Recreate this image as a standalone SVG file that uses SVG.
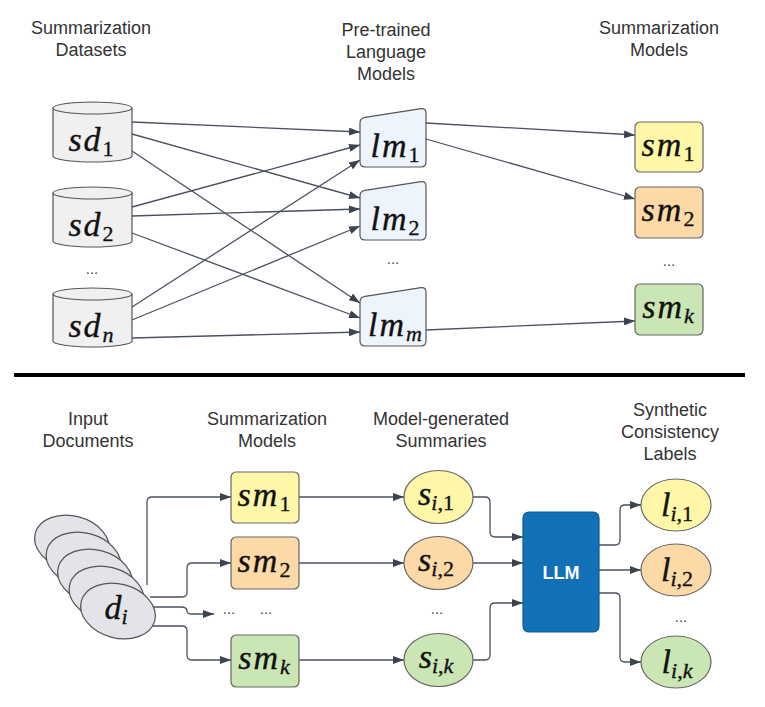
<svg xmlns="http://www.w3.org/2000/svg" width="765" height="707" viewBox="0 0 765 707">
<defs>
<marker id="ah" markerUnits="userSpaceOnUse" markerWidth="11" markerHeight="8" refX="11" refY="4" orient="auto">
<path d="M0,0 L11,4 L0,8 Z" fill="#3b4250"/>
</marker>
<style>
.lbl{font-family:"Liberation Sans",Arial,sans-serif;font-size:18px;fill:#333;text-anchor:middle}
.dots{font-family:"Liberation Sans",Arial,sans-serif;font-size:15px;fill:#444;text-anchor:middle}
.m{font-family:"Liberation Serif","Times New Roman",serif;font-style:italic;font-size:34px;fill:#111;stroke:#111;stroke-width:0.35px;text-anchor:middle}
.m .b{letter-spacing:2px}
.m .s{font-size:22px}
.m .r{font-style:normal}
.cyl{fill:#f0f0f0;stroke:#555;stroke-width:1.2}
.lm{fill:#edf4fc;stroke:#555;stroke-width:1.2}
.yel{fill:#fff7a8;stroke:#666;stroke-width:1.2}
.org{fill:#fcd9a6;stroke:#666;stroke-width:1.2}
.grn{fill:#c9e6b4;stroke:#666;stroke-width:1.2}
.doc{fill:#e2e4e9;stroke:#555;stroke-width:1.2}
.c{fill:none;stroke:#4a5160;stroke-width:1.3;marker-end:url(#ah)}
</style>
</defs>
<rect width="765" height="707" fill="#fff"/>

<g id="labels">
<text class="lbl" x="91" y="34">Summarization</text>
<text class="lbl" x="91" y="56">Datasets</text>
<text class="lbl" x="386" y="36">Pre-trained</text>
<text class="lbl" x="386" y="58">Language</text>
<text class="lbl" x="386" y="80">Models</text>
<text class="lbl" x="659" y="34">Summarization</text>
<text class="lbl" x="659" y="56">Models</text>
<text class="lbl" x="88" y="425">Input</text>
<text class="lbl" x="88" y="447">Documents</text>
<text class="lbl" x="267" y="425">Summarization</text>
<text class="lbl" x="267" y="447">Models</text>
<text class="lbl" x="441" y="425">Model-generated</text>
<text class="lbl" x="441" y="447">Summaries</text>
<text class="lbl" x="670" y="416">Synthetic</text>
<text class="lbl" x="670" y="438">Consistency</text>
<text class="lbl" x="670" y="460">Labels</text>
<text class="dots" x="92" y="274">...</text>
<text class="dots" x="393" y="264">...</text>
<text class="dots" x="669" y="266">...</text>
<text class="dots" x="229" y="614">...</text>
<text class="dots" x="266" y="614">...</text>
<text class="dots" x="437" y="614">...</text>
<text class="dots" x="681" y="622">...</text>
</g>

<line id="separator" x1="14" y1="375" x2="745" y2="375" stroke="#000" stroke-width="4"/>

<g id="connectors">
<path class="c" d="M132,122 L360,132"/>
<path class="c" d="M132,134 L360,198"/>
<path class="c" d="M132,151 L360,303"/>
<path class="c" d="M132,207 L360,145"/>
<path class="c" d="M132,216 L360,209"/>
<path class="c" d="M132,233 L360,318"/>
<path class="c" d="M132,307 L360,160"/>
<path class="c" d="M132,320 L360,226"/>
<path class="c" d="M132,338 L360,332"/>
<path class="c" d="M426,123 L635,135"/>
<path class="c" d="M426,139 L635,199"/>
<path class="c" d="M426,330 L635,321"/>

<path class="c" d="M147,585 L147,502 Q147,497 152,497 L231,497"/>
<path class="c" d="M150,597 L182,597 Q187,597 187,592 L187,568 Q187,563 192,563 L231,563"/>
<path class="c" d="M150,607 L181,607 Q187,607 187,611 Q187,614 192,614 L214,614"/>
<path class="c" d="M140,626 L182,626 Q187,626 187,631 L187,655 Q187,660 192,660 L231,660"/>

<path class="c" d="M299,497 L404,497"/>
<path class="c" d="M299,563 L404,563"/>
<path class="c" d="M299,660 L404,660"/>

<path class="c" d="M473,497 L485,497 Q490,497 490,502 L490,532 Q490,537 495,537 L523,537"/>
<path class="c" d="M473,563 L523,563"/>
<path class="c" d="M473,660 L485,660 Q490,660 490,655 L490,608 Q490,603 495,603 L523,603"/>

<path class="c" d="M599,545 L615,545 Q620,545 620,540 L620,510 Q620,505 625,505 L641,505"/>
<path class="c" d="M599,570 L641,570"/>
<path class="c" d="M599,593 L615,593 Q620,593 620,598 L620,657 Q620,662 625,662 L641,662"/>
</g>

<g id="sd1">
<path class="cyl" d="M53,108 A39.5,6 0 0,1 132,108 L132,156 A39.5,6 0 0,1 53,156 Z"/>
<path class="cyl" d="M53,108 A39.5,6 0 0,0 132,108" fill="none"/>
<text class="m" x="91" y="151"><tspan class="b">sd</tspan><tspan class="s r" dy="5">1</tspan></text>
</g>
<g id="sd2">
<path class="cyl" d="M53,193 A39.5,6 0 0,1 132,193 L132,241 A39.5,6 0 0,1 53,241 Z"/>
<path class="cyl" d="M53,193 A39.5,6 0 0,0 132,193" fill="none"/>
<text class="m" x="91" y="236"><tspan class="b">sd</tspan><tspan class="s r" dy="5">2</tspan></text>
</g>
<g id="sdn">
<path class="cyl" d="M53,294 A39.5,6 0 0,1 132,294 L132,341 A39.5,6 0 0,1 53,341 Z"/>
<path class="cyl" d="M53,294 A39.5,6 0 0,0 132,294" fill="none"/>
<text class="m" x="91" y="337"><tspan class="b">sd</tspan><tspan class="s" dy="5">n</tspan></text>
</g>

<g id="lm1">
<path class="lm" d="M360,123 Q360,118 365,117.3 L421,108.7 Q426,108 426,113 L426,162 Q426,167 421,167 L365,167 Q360,167 360,162 Z"/>
<text class="m" x="395" y="157"><tspan class="b">lm</tspan><tspan class="s r" dy="5">1</tspan></text>
</g>
<g id="lm2">
<path class="lm" d="M360,196 Q360,191 365,190.3 L421,181.7 Q426,181 426,186 L426,235 Q426,240 421,240 L365,240 Q360,240 360,235 Z"/>
<text class="m" x="395" y="230"><tspan class="b">lm</tspan><tspan class="s r" dy="5">2</tspan></text>
</g>
<g id="lmm">
<path class="lm" d="M360,302 Q360,297 365,296.3 L421,287.7 Q426,287 426,292 L426,341 Q426,346 421,346 L365,346 Q360,346 360,341 Z"/>
<text class="m" x="395" y="336"><tspan class="b">lm</tspan><tspan class="s" dy="5">m</tspan></text>
</g>

<g id="top_sm1">
<rect class="yel" x="635" y="122" width="68" height="50" rx="5"/>
<text class="m" x="668" y="156"><tspan class="b">sm</tspan><tspan class="s r" dy="5">1</tspan></text>
</g>
<g id="top_sm2">
<rect class="org" x="635" y="187" width="68" height="51" rx="5"/>
<text class="m" x="668" y="221"><tspan class="b">sm</tspan><tspan class="s r" dy="5">2</tspan></text>
</g>
<g id="top_smk">
<rect class="grn" x="635" y="284" width="68" height="51" rx="5"/>
<text class="m" x="668" y="318"><tspan class="b">sm</tspan><tspan class="s" dy="5">k</tspan></text>
</g>

<g id="docs">
<ellipse class="doc" cx="72" cy="543" rx="38" ry="27" transform="rotate(15 72 543)"/>
<ellipse class="doc" cx="83.5" cy="560" rx="38" ry="27" transform="rotate(15 83.5 560)"/>
<ellipse class="doc" cx="95" cy="577" rx="38" ry="27" transform="rotate(15 95 577)"/>
<ellipse class="doc" cx="106.5" cy="594" rx="38" ry="27" transform="rotate(15 106.5 594)"/>
<ellipse class="doc" cx="118" cy="611" rx="38" ry="27" transform="rotate(15 118 611)"/>
<text class="m" x="116" y="619"><tspan>d</tspan><tspan class="s" dy="5">i</tspan></text>
</g>

<g id="sm1">
<rect class="yel" x="231" y="472" width="68" height="51" rx="5"/>
<text class="m" x="264" y="506"><tspan class="b">sm</tspan><tspan class="s r" dy="5">1</tspan></text>
</g>
<g id="sm2">
<rect class="org" x="231" y="537" width="68" height="52" rx="5"/>
<text class="m" x="264" y="572"><tspan class="b">sm</tspan><tspan class="s r" dy="5">2</tspan></text>
</g>
<g id="smk">
<rect class="grn" x="231" y="635" width="68" height="52" rx="5"/>
<text class="m" x="264" y="669"><tspan class="b">sm</tspan><tspan class="s" dy="5">k</tspan></text>
</g>

<g id="s1">
<ellipse class="yel" cx="438.5" cy="497" rx="34.5" ry="26.5"/>
<text class="m" x="436" y="505"><tspan>s</tspan><tspan class="s" dy="5">i<tspan class="r">,1</tspan></tspan></text>
</g>
<g id="s2">
<ellipse class="org" cx="438.5" cy="563" rx="34.5" ry="26.5"/>
<text class="m" x="436" y="571"><tspan>s</tspan><tspan class="s" dy="5">i<tspan class="r">,2</tspan></tspan></text>
</g>
<g id="sk">
<ellipse class="grn" cx="438.5" cy="660" rx="34.5" ry="26.5"/>
<text class="m" x="436" y="668"><tspan>s</tspan><tspan class="s" dy="5">i<tspan class="r">,</tspan>k</tspan></text>
</g>

<g id="llm">
<rect x="523" y="512" width="76" height="120" rx="6" fill="#1170b6" stroke="#0b5a94" stroke-width="1.2"/>
<text x="561" y="579" font-family="'Liberation Sans',Arial,sans-serif" font-size="18" font-weight="bold" fill="#fff" text-anchor="middle">LLM</text>
</g>

<g id="l1">
<ellipse class="yel" cx="676" cy="505" rx="35" ry="26"/>
<text class="m" x="677" y="516"><tspan>l</tspan><tspan class="s" dy="5">i<tspan class="r">,1</tspan></tspan></text>
</g>
<g id="l2">
<ellipse class="org" cx="676" cy="570" rx="35" ry="26"/>
<text class="m" x="677" y="581"><tspan>l</tspan><tspan class="s" dy="5">i<tspan class="r">,2</tspan></tspan></text>
</g>
<g id="lk">
<ellipse class="grn" cx="676" cy="662" rx="35" ry="26"/>
<text class="m" x="677" y="673"><tspan>l</tspan><tspan class="s" dy="5">i<tspan class="r">,</tspan>k</tspan></text>
</g>
</svg>
